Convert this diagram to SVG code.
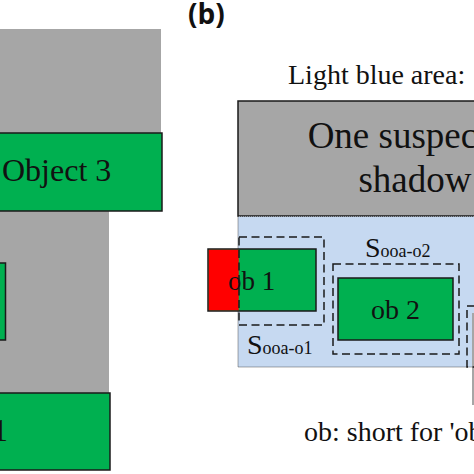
<svg xmlns="http://www.w3.org/2000/svg" width="474" height="474" viewBox="0 0 474 474">
<style>
.gray{fill:#a6a6a6}
.green{fill:#00b050;stroke:#1a1a1a;stroke-width:1.5}
.t{font-family:"Liberation Serif","Times New Roman",serif;fill:#111}
.dash{fill:none;stroke:#1a1a1a;stroke-width:1.5;stroke-dasharray:8,4.5}
</style>
<rect width="474" height="474" fill="#ffffff"/>
<g id="panel-a">
  <rect class="gray" x="-5" y="29" width="166" height="110"/>
  <rect class="gray" x="-5" y="205" width="114" height="190"/>
  <g id="object3">
    <rect class="green" x="-5" y="133" width="167" height="78"/>
    <text class="t" x="2" y="181" font-size="32">Object 3</text>
  </g>
  <g id="object2">
    <rect class="green" x="-5" y="263" width="10.5" height="77"/>
  </g>
  <g id="object1">
    <rect class="green" x="-5" y="393" width="115" height="77"/>
    <text class="t" x="8" y="441" font-size="32" text-anchor="end">Object 1</text>
  </g>
</g>
<text x="188" y="24" font-family="'Open Sans','DejaVu Sans',sans-serif" font-weight="bold" font-size="28" fill="#111">(b)</text>
<g id="panel-b">
  <text class="t" x="288" y="84" font-size="28">Light blue area:</text>
  <g id="shadow">
    <rect x="238" y="101" width="245" height="115" fill="#a6a6a6" stroke="#1a1a1a" stroke-width="1.5"/>
    <text class="t" x="415" y="148" font-size="37" text-anchor="middle">One suspected</text>
    <text class="t" x="415" y="192" font-size="37" text-anchor="middle">shadow</text>
  </g>
  <g id="blue-area">
    <rect x="238" y="216.5" width="245" height="150.5" fill="#c6d9f1" stroke="#444" stroke-width="0.9" stroke-dasharray="1,1"/>
  </g>
  <rect class="gray" x="472" y="313" width="10" height="92"/>
  <g id="ob1">
    <rect x="208" y="249" width="108" height="62" fill="#00b050" stroke="#1a1a1a" stroke-width="1.5"/>
    <rect x="208.75" y="249.75" width="30" height="60.5" fill="#ff0000"/>
    <text class="t" x="228" y="290" font-size="27">ob 1</text>
  </g>
  <g id="s-ooa-o1">
    <rect class="dash" x="239" y="237" width="85" height="88"/>
    <text class="t" x="247" y="354" font-size="28">S<tspan font-size="18">ooa-o1</tspan></text>
  </g>
  <g id="ob2">
    <rect class="green" x="338" y="278" width="115" height="62"/>
    <text class="t" x="395.5" y="319" font-size="28" text-anchor="middle">ob 2</text>
  </g>
  <g id="s-ooa-o2">
    <rect class="dash" x="333" y="264" width="126" height="90"/>
    <text class="t" x="365" y="257" font-size="28">S<tspan font-size="18">ooa-o2</tspan></text>
  </g>
  <g id="s-ooa-o3">
    <rect class="dash" x="467" y="306" width="20" height="61"/>
  </g>
  <text class="t" x="304" y="441" font-size="28">ob: short for 'object'</text>
</g>
</svg>
